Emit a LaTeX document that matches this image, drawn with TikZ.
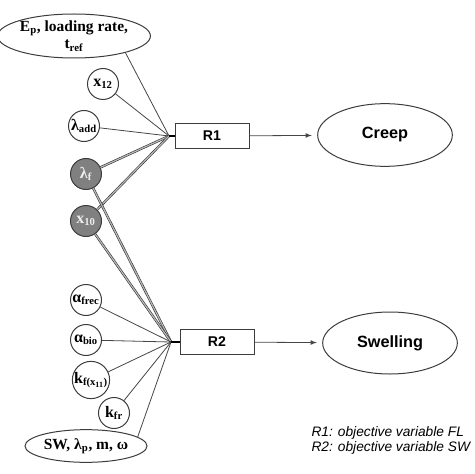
\documentclass[tikz,border=0pt]{standalone}
\usepackage{fontspec}
\setmainfont{Liberation Serif}
\newfontfamily\arialfont{Liberation Sans}
\usetikzlibrary{shapes.geometric}

\tikzset{every picture/.style={line width=0.75pt}}
\tikzset{
  parcirc/.style={circle,draw={rgb, 255:red, 60; green, 60; blue, 60 },minimum size=23.25pt,inner sep=0pt,
    font=\fontsize{12}{13}\selectfont\bfseries},
  parfill/.style={parcirc,fill={rgb, 255:red, 128; green, 128; blue, 128 },text={rgb, 255:red, 238; green, 238; blue, 238 }},
  parell/.style={ellipse,draw={rgb, 255:red, 60; green, 60; blue, 60 },inner sep=0pt,align=center,
    font=\fontsize{11.6}{13}\selectfont\bfseries},
  resbox/.style={rectangle,draw={rgb, 255:red, 60; green, 60; blue, 60 },minimum width=55.5pt,minimum height=18.75pt,inner sep=0pt,
    font=\arialfont\fontsize{10.6}{12}\selectfont\bfseries},
  outell/.style={ellipse,draw={rgb, 255:red, 60; green, 60; blue, 60 },minimum width=101pt,minimum height=47pt,inner sep=0pt,
    font=\arialfont\fontsize{12.2}{13}\selectfont\bfseries},
  feed/.style={draw={rgb, 255:red, 70; green, 70; blue, 70 },line width=0.6pt},
  dfeed/.style={draw={rgb, 255:red, 50; green, 50; blue, 50 },double={rgb, 255:red, 185; green, 185; blue, 185 },
    double distance=0.9pt,line width=0.45pt}
}

\begin{document}
\begin{tikzpicture}[x=0.75pt,y=0.75pt,yscale=-1,xscale=1]
\useasboundingbox (0,0) rectangle (474,474);

%Shape: Ellipse (inputs top)
\node [parell,minimum width=108pt,minimum height=33pt] (ep) at (74,36) {E\textsubscript{p}, loading rate,\\t\textsubscript{ref}};
%Shape: Circles (parameters)
\node [parcirc] (x12) at (103,84) {x\textsubscript{12}};
\node [parcirc] (ladd) at (84,126) {λ\textsubscript{add}};
\node [parfill] (lf) at (86,174) {λ\textsubscript{f}};
\node [parfill] (x10) at (86,221) {x\textsubscript{10}};
\node [parcirc] (afrec) at (86,300) {α\textsubscript{frec}};
\node [parcirc] (abio) at (86,340) {α\textsubscript{bio}};
\node [parcirc] (kf) at (91,380) {k\textsubscript{f(x\textsubscript{11})}};
\node [parcirc] (kfr) at (114,413) {k\textsubscript{fr}};
%Shape: Ellipse (inputs bottom)
\node [parell,minimum width=91.5pt,minimum height=24.5pt] (sw) at (86,446) {SW, λ\textsubscript{p}, m, ω};

%Shape: Rectangles
\node [resbox] (r1) at (212,136) {R1};
\node [resbox] (r2) at (217,342) {R2};
%Shape: Ellipses (outputs)
\node [outell] (creep) at (385,135) {Creep};
\node [outell,minimum height=46.5pt] (swell) at (390,343) {Swelling};

%Junctions
\coordinate (j1) at (169,136);
\coordinate (j2) at (171,342);

%Straight Lines to R1
\draw [feed] (ep.-18) -- (j1);
\draw [feed] (x12) -- (j1);
\draw [feed] (ladd) -- (j1);
\draw [dfeed] (lf) -- (j1);
\draw [dfeed] (x10) -- (j1);
%Straight Lines to R2
\draw [dfeed] (lf) -- (j2);
\draw [dfeed] (x10) -- (j2);
\draw [feed] (afrec) -- (j2);
\draw [feed] (abio) -- (j2);
\draw [feed] (kf) -- (j2);
\draw [feed] (kfr) -- (j2);
\draw [feed] (sw.10) -- (j2);
%Stubs
\draw [line width=1.5pt] (j1) -- (r1.west);
\draw [line width=1.5pt] (j2) -- (r2.west);

%Arrows
\draw [feed,-latex,shorten >=4pt] (r1) -- (creep);
\draw [feed,-latex,shorten >=4pt] (r2) -- (swell);

% Text Node
\node [anchor=west,align=left,inner sep=0pt,font=\arialfont\itshape\fontsize{10.3}{11.3}\selectfont] (legend) at (311,440) {R1: objective variable FL\\R2: objective variable SW};

\end{tikzpicture}
\end{document}
